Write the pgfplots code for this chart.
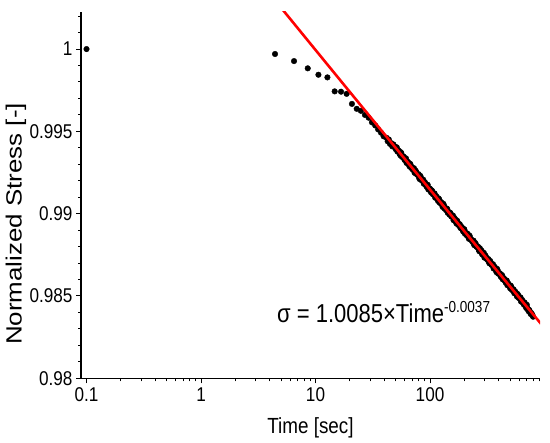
\documentclass[border=0pt]{standalone}
\usepackage{fontspec}
\setmainfont{Liberation Sans}
\newfontfamily\nar{Liberation Sans}[FakeStretch=0.86]
\newfontfamily\eqf{Liberation Sans}[FakeStretch=0.85]
\usepackage{pgfplots}
\pgfplotsset{compat=1.18}
\begin{document}
\begin{tikzpicture}
\useasboundingbox (0,0) rectangle (550bp,443bp);
\begin{axis}[
  at={(81bp,64.7bp)}, anchor=south west,
  scale only axis, width=459bp, height=366.6bp,
  xmode=log, xmin=0.0895, xmax=913, ymin=0.98, ymax=1.00227,
  clip marker paths=true,
  axis lines=left,
  axis line style={-, line width=1.1bp},
  tick align=outside, major tick length=5bp, minor tick length=3bp,
  tick style={black, line width=1bp},
  xtick={0.1,1,10,100}, xticklabels={0.1,1,10,100},
  minor xtick={0.2,0.3,0.4,0.5,0.6,0.7,0.8,0.9,2,3,4,5,6,7,8,9,20,30,40,50,60,70,80,90,200,300,400,500,600,700,800,900},
  ytick={0.98,0.985,0.99,0.995,1}, yticklabels={0.98,0.985,0.99,0.995,1},
  minor ytick={0.981,0.982,0.983,0.984,0.986,0.987,0.988,0.989,0.991,0.992,0.993,0.994,0.996,0.997,0.998,0.999,1.001,1.002},
  ticklabel style={font=\nar\fontsize{20}{20}\selectfont},
  xticklabel style={yshift=-1bp},
  xlabel={Time [sec]},
  ylabel={\scalebox{1}[0.85]{Normalized Stress [-]}},
  xlabel style={font=\nar\fontsize{22}{22}\selectfont, at={(axis description cs:0.5,-0.1356)}, anchor=center},
  ylabel style={font=\fontsize{26}{26}\selectfont, at={(axis description cs:-0.1416,0.421)}, anchor=center},
]
\addplot[only marks, mark=*, mark size=2.8bp, black] coordinates {
(0.1,1.00000)
(4.43,0.99970) (6.49,0.99927) (8.55,0.99883) (10.6,0.99844) (12.7,0.99828)
(14.7,0.99743) (16.7,0.99741) (18.7,0.99728) (20.8,0.99667) (22.9,0.99637)
(24.9,0.99625) (27.0,0.99600) (29.1,0.99583) (31.1,0.99555) (33.2,0.99536)
(35.2,0.99512) (37.3,0.99492) (39.3,0.99470)
(41.687,0.99461) (42.658,0.99440) (43.652,0.99451) (44.668,0.99424) (45.709,0.99429)
(46.774,0.99409) (47.863,0.99421) (48.978,0.99409) (50.119,0.99392) (51.286,0.99402)
(52.481,0.99379) (53.703,0.99380) (54.954,0.99355) (56.234,0.99367) (57.544,0.99347)
(58.884,0.99347) (60.256,0.99325) (61.660,0.99336) (63.096,0.99310) (64.565,0.99310)
(66.069,0.99288) (67.608,0.99298) (69.183,0.99282) (70.795,0.99267) (72.444,0.99276)
(74.131,0.99247) (75.858,0.99252) (77.625,0.99236) (79.433,0.99240) (81.283,0.99210)
(83.176,0.99220) (85.114,0.99204) (87.096,0.99207) (89.125,0.99181) (91.201,0.99182)
(93.325,0.99163) (95.499,0.99175) (97.724,0.99150) (100.00,0.99151)
(102.33,0.99128) (104.71,0.99136) (107.15,0.99118) (109.65,0.99123) (112.20,0.99098)
(114.82,0.99096) (117.49,0.99077) (120.23,0.99087) (123.03,0.99065) (125.89,0.99066)
(128.82,0.99041) (131.83,0.99054) (134.90,0.99038) (138.04,0.99021) (141.25,0.99029)
(144.54,0.99009) (147.91,0.98994) (151.36,0.99000) (154.88,0.98982) (158.49,0.98989)
(162.18,0.98961) (165.96,0.98963) (169.82,0.98941) (173.78,0.98951) (177.83,0.98934)
(181.97,0.98936) (186.21,0.98912) (190.55,0.98915) (194.98,0.98891) (199.53,0.98904)
(204.17,0.98882) (208.93,0.98869) (213.80,0.98876) (218.78,0.98847) (223.87,0.98855)
(229.09,0.98843) (234.42,0.98829) (239.88,0.98836) (245.47,0.98808) (251.19,0.98815)
(257.04,0.98798) (263.03,0.98799) (269.15,0.98772) (275.42,0.98778) (281.84,0.98776)
(288.40,0.98752) (295.12,0.98762) (302.00,0.98733) (309.03,0.98733) (316.23,0.98720)
(323.59,0.98724) (331.13,0.98698) (338.84,0.98704) (346.74,0.98688) (354.81,0.98693)
(363.08,0.98667) (371.54,0.98668) (380.19,0.98645) (389.05,0.98658) (398.11,0.98639)
(407.38,0.98638) (416.87,0.98615) (426.58,0.98625) (436.52,0.98602) (446.68,0.98601)
(457.09,0.98582) (467.74,0.98594) (478.63,0.98567) (489.78,0.98566) (501.19,0.98546)
(512.86,0.98555) (524.81,0.98536) (537.03,0.98540) (549.54,0.98516) (562.34,0.98519)
(575.44,0.98496) (588.84,0.98504) (602.56,0.98487) (616.60,0.98492) (630.96,0.98465)
(645.65,0.98466) (660.69,0.98447) (676.08,0.98452) (691.83,0.98427) (707.95,0.98429)
(724.44,0.98408) (741.31,0.98409) (758.58,0.98390) (776.25,0.98389) (794.33,0.98374)
};
\addplot[only marks, mark=*, mark size=2.8bp, black] coordinates {
(50.70,0.99404) (51.88,0.99377) (53.09,0.99383) (54.33,0.99365) (55.59,0.99373)
(56.89,0.99345) (58.21,0.99347) (59.57,0.99331) (60.95,0.99335) (62.38,0.99308)
(63.83,0.99316) (65.31,0.99300) (66.84,0.99304) (68.39,0.99278) (69.99,0.99277)
(71.62,0.99275) (73.28,0.99249) (74.99,0.99261) (76.74,0.99239) (78.53,0.99238)
(80.35,0.99217) (82.23,0.99230) (84.14,0.99204) (86.10,0.99202) (88.11,0.99183)
(90.16,0.99191) (92.26,0.99174) (94.41,0.99175) (96.61,0.99147) (98.86,0.99154)
(101.16,0.99137) (103.52,0.99142) (105.93,0.99118) (108.39,0.99119) (110.92,0.99097)
(113.50,0.99106) (116.15,0.99090) (118.85,0.99093) (121.62,0.99066) (124.46,0.99071)
(127.35,0.99053) (130.31,0.99061) (133.36,0.99032) (136.46,0.99030) (139.64,0.99031)
(142.89,0.99005) (146.22,0.99009) (149.63,0.99007) (153.12,0.98984) (156.68,0.98986)
(160.33,0.98961) (164.06,0.98973) (167.89,0.98953) (171.79,0.98959) (175.80,0.98932)
(179.89,0.98932) (184.08,0.98914) (188.37,0.98920) (192.76,0.98901) (197.24,0.98907)
(201.84,0.98878) (206.54,0.98883) (211.35,0.98879) (216.28,0.98856) (221.32,0.98867)
(226.47,0.98843) (231.75,0.98837) (237.14,0.98835) (242.66,0.98811) (248.32,0.98822)
(254.10,0.98799) (260.02,0.98798) (266.08,0.98781) (272.27,0.98790) (278.61,0.98768)
(285.11,0.98753) (291.75,0.98760) (298.54,0.98733) (305.50,0.98745) (312.61,0.98729)
(319.90,0.98724) (327.34,0.98704) (334.97,0.98713) (342.77,0.98690) (350.76,0.98690)
(358.93,0.98667) (367.29,0.98677) (375.85,0.98659) (384.60,0.98665) (393.56,0.98636)
(402.73,0.98637) (412.11,0.98622) (421.71,0.98628) (431.53,0.98601) (441.58,0.98608)
(451.86,0.98591) (462.39,0.98594) (473.17,0.98566) (484.18,0.98575) (495.46,0.98560)
(507.00,0.98563) (518.81,0.98537) (530.90,0.98540) (543.26,0.98518) (555.91,0.98526)
(568.86,0.98506) (582.12,0.98512) (595.67,0.98488) (609.55,0.98487) (623.75,0.98466)
(638.28,0.98476) (653.14,0.98458) (668.35,0.98461) (683.92,0.98438) (699.85,0.98447)
(716.16,0.98419) (732.84,0.98416) (749.91,0.98398) (767.38,0.98396) (785.25,0.98383)
};
\addplot[red, line width=2.6bp, no marks] coordinates {
(5.2,1.002366) (10,0.999945) (20,0.997383) (50,0.994008) (100,0.991462)
(200,0.988922) (500,0.985575) (930,0.983315)
};
\node[anchor=base west, inner sep=0pt, font=\eqf\fontsize{26}{26}\selectfont] at (axis cs:4.6,0.98342)
  {σ = 1.0085×Time\raisebox{10bp}{\fontsize{16}{16}\selectfont -0.0037}};
\end{axis}
\end{tikzpicture}
\end{document}
